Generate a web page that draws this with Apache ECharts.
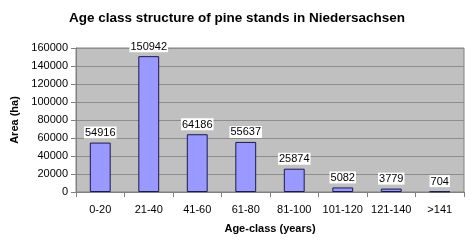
<!DOCTYPE html>
<html>
<head>
<meta charset="utf-8">
<script src="https://cdn.jsdelivr.net/npm/echarts@6/dist/echarts.min.js"></script>
<style>
  html, body { margin: 0; padding: 0; background: #fff; }
  #chart { width: 474px; height: 247px; }
</style>
</head>
<body>
<div id="chart"></div>
<script>
// age classes and area per class
const categories = ["0-20", "21-40", "41-60", "61-80", "81-100", "101-120", "121-140", ">141"];
const areaValues = [54916, 150942, 64186, 55637, 25874, 5082, 3779, 704];

const chart = echarts.init(document.getElementById("chart"));
chart.setOption({
  animation: false,
  backgroundColor: "#fff",
  textStyle: { fontFamily: "Liberation Sans, Arial, sans-serif" },
  title: {
    text: "Age class structure of pine stands in Niedersachsen",
    left: "center",
    top: 6,
    textStyle: { fontSize: 13.5, fontWeight: "bold", color: "#000" },
  },
  grid: {
    left: 76,
    right: 10,
    top: 48,
    bottom: 55,
    show: true,
    backgroundColor: "#c0c0c0",
    borderColor: "#808080",
    borderWidth: 1,
  },
  xAxis: {
    type: "category",
    data: categories,
    name: "Age-class (years)",
    nameLocation: "middle",
    nameGap: 31,
    nameTextStyle: { fontSize: 11, fontWeight: "bold", color: "#000" },
    axisLine: { lineStyle: { color: "#808080" } },
    axisTick: { show: true, lineStyle: { color: "#808080" } },
    axisLabel: { fontSize: 11, color: "#000", margin: 12, interval: 0 },
  },
  yAxis: {
    type: "value",
    min: 0,
    max: 160000,
    interval: 20000,
    name: "Area (ha)",
    nameLocation: "middle",
    nameGap: 55,
    nameTextStyle: { fontSize: 11, fontWeight: "bold", color: "#000" },
    axisLine: { show: true, lineStyle: { color: "#808080" } },
    axisTick: { show: true, lineStyle: { color: "#808080" } },
    axisLabel: { fontSize: 11, color: "#000", margin: 8, formatter: (v) => String(v) },
    splitLine: { lineStyle: { color: "#8c8c8c" } },
  },
  series: [
    {
      type: "bar",
      data: areaValues,
      barWidth: "43%",
      itemStyle: { color: "#9999ff", borderColor: "#1a1a4d", borderWidth: 1 },
      label: {
        show: true,
        position: "top",
        distance: 4,
        fontSize: 11,
        color: "#000",
        backgroundColor: "#fff",
        padding: [1, 1, 0, 1],
      },
    },
  ],
});
</script>
</body>
</html>
